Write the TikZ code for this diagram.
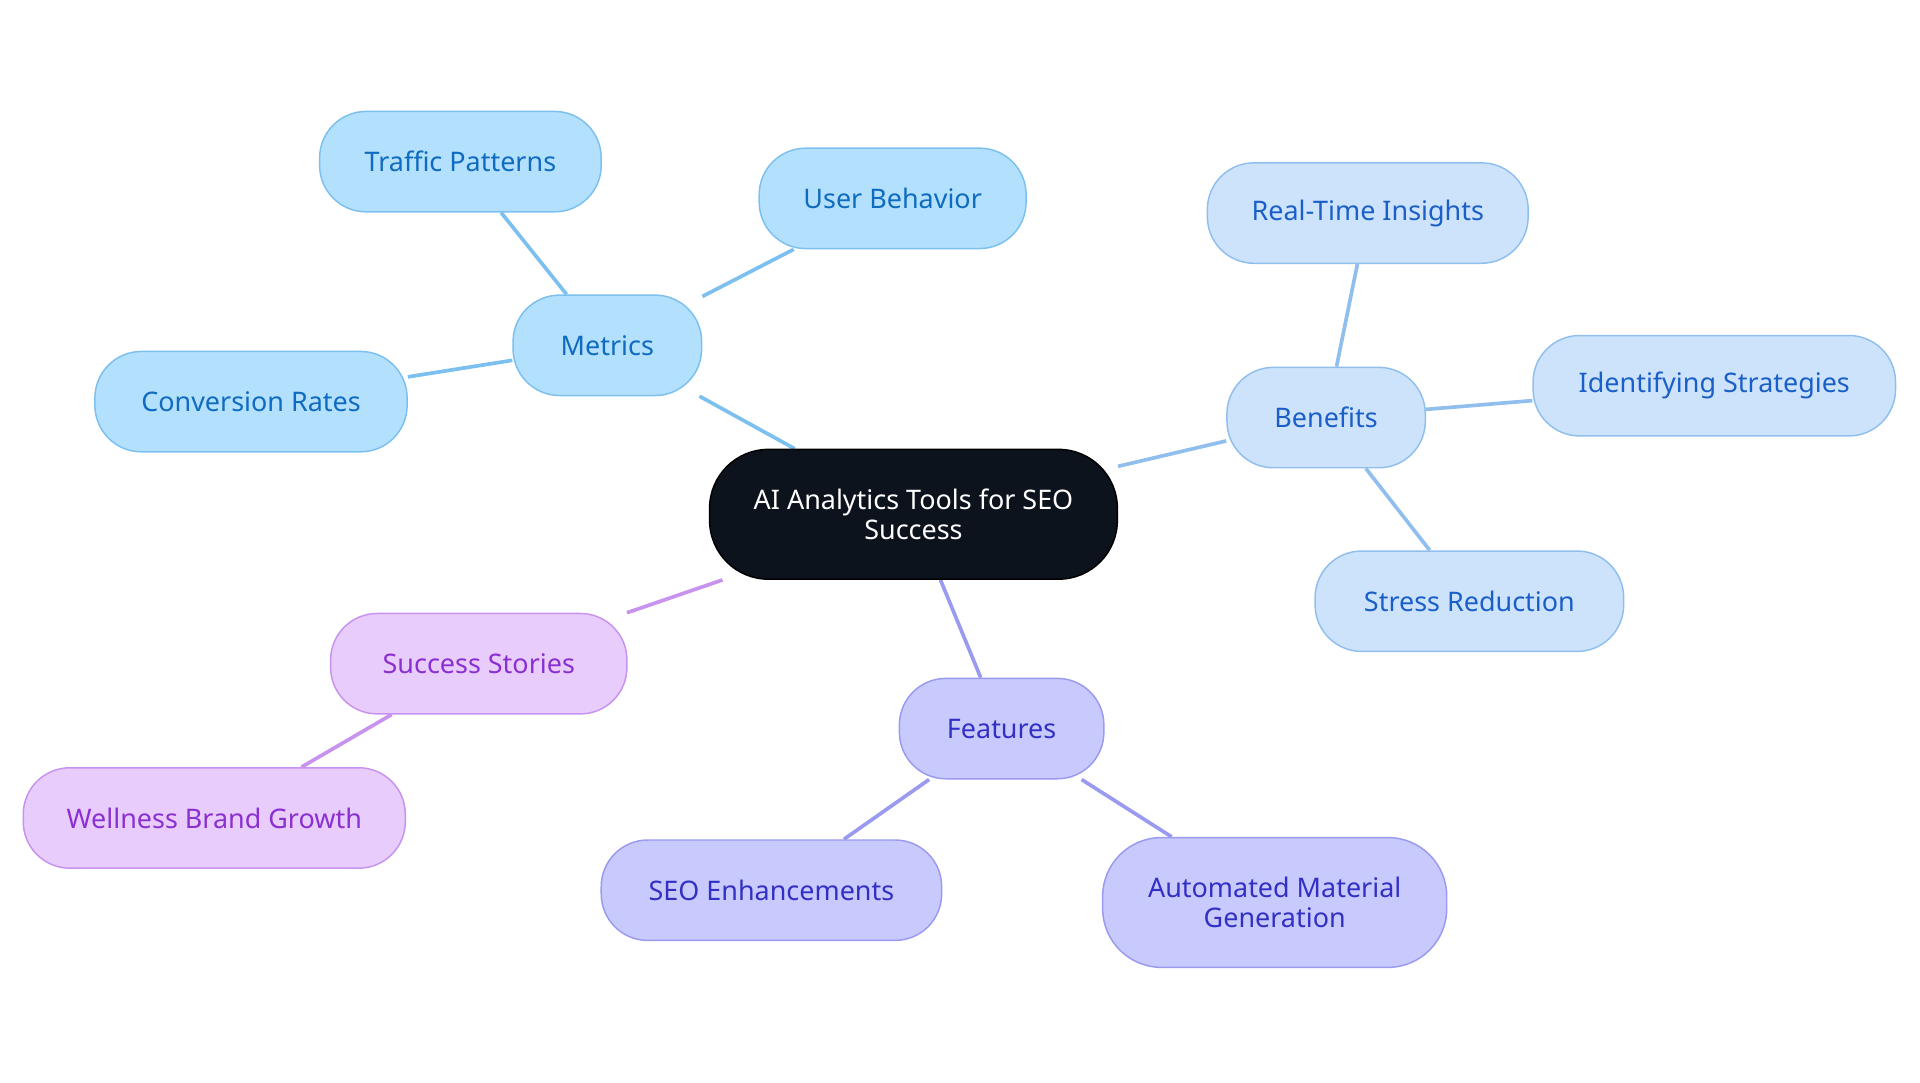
\documentclass[tikz,border=0pt]{standalone}
\usepackage{fontspec}
\setmainfont{Noto Sans}
\usetikzlibrary{backgrounds}
\definecolor{mf}{HTML}{B3E0FD}\definecolor{mb}{HTML}{7CC0EF}\definecolor{mt}{HTML}{0F6BBF}
\definecolor{bf}{HTML}{CCE3FB}\definecolor{bb}{HTML}{90BFEE}\definecolor{bt}{HTML}{1A5FC8}
\definecolor{pf}{HTML}{E8CCFC}\definecolor{pb}{HTML}{C893EF}\definecolor{pt}{HTML}{8A2FD1}
\definecolor{ff}{HTML}{C8C9FD}\definecolor{fb}{HTML}{9A9AF0}\definecolor{ft}{HTML}{3230C4}
\definecolor{cf}{HTML}{0D131C}
\tikzset{
 box/.style={rounded corners=19pt,minimum height=41pt,inner sep=0pt,align=center,font=\fontsize{11pt}{12.5pt}\selectfont,line width=0.6pt},
 mbox/.style={box,fill=mf,draw=mb,text=mt},
 bbox/.style={box,fill=bf,draw=bb,text=bt},
 pbox/.style={box,fill=pf,draw=pb,text=pt},
 fbox/.style={box,fill=ff,draw=fb,text=ft},
 ed/.style={line width=1.5pt}
}
\begin{document}
\begin{tikzpicture}[x=0.5pt,y=-0.5pt]
\useasboundingbox (0,0) rectangle (1568,884);
\node[box,fill=cf,draw=black,text=white,minimum width=166.5pt,minimum height=53pt,rounded corners=24pt] (c) at (746,420) {AI Analytics Tools for SEO\\Success};
\node[mbox,minimum width=77pt] (m) at (496,282) {Metrics};
\node[mbox,minimum width=115pt] (m1) at (376,132) {Traffic Patterns};
\node[mbox,minimum width=109pt] (m2) at (729,162) {User Behavior};
\node[mbox,minimum width=127.5pt] (m3) at (205,328) {Conversion Rates};
\node[bbox,minimum width=81pt] (b) at (1083,341) {Benefits};
\node[bbox,minimum width=131pt] (b1) at (1117,174) {Real-Time Insights};
\node[bbox,minimum width=148pt] (b2) at (1400,315) {Identifying Strategies};
\node[bbox,minimum width=126pt] (b3) at (1200,491) {Stress Reduction};
\node[pbox,minimum width=121pt] (s) at (391,542) {Success Stories};
\node[pbox,minimum width=156pt] (s1) at (175,668) {Wellness Brand Growth};
\node[fbox,minimum width=83.5pt] (f) at (818,595) {Features};
\node[fbox,minimum width=139pt] (f1) at (630,727) {SEO Enhancements};
\node[fbox,minimum width=140.5pt,minimum height=53pt,rounded corners=24pt] (f2) at (1041,737) {Automated Material\\Generation};
\begin{scope}[on background layer]
\draw[ed,mb] (c)--(m) (m)--(m1) (m)--(m2) (m)--(m3);
\draw[ed,bb] (c)--(b) (b)--(b1) (b)--(b2) (b)--(b3);
\draw[ed,pb] (c)--(s) (s)--(s1);
\draw[ed,fb] (c)--(f) (f)--(f1) (f)--(f2);
\end{scope}
\end{tikzpicture}
\end{document}
